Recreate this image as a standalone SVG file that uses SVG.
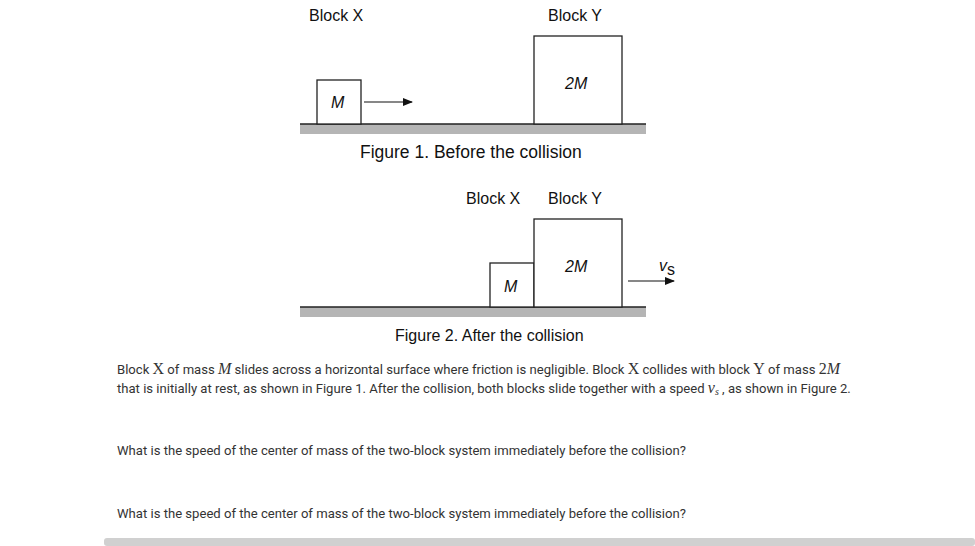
<svg xmlns="http://www.w3.org/2000/svg" width="975" height="546" viewBox="0 0 975 546">
<style>
.l{font-family:"Liberation Sans",Arial,sans-serif;font-size:16px;fill:#111}
.c{font-size:17.5px}
.i{font-style:italic}
.b{fill:#fff;stroke:#222;stroke-width:1.3}
.g{fill:#b5b5b5}
.t{font-family:Roboto,"Liberation Sans",sans-serif;font-size:13.1px;fill:#333}
.m{font-family:"Liberation Serif",serif;font-size:16px;fill:#333}
</style>
<defs><marker id="a" markerWidth="10" markerHeight="8" refX="9" refY="4" orient="auto" markerUnits="userSpaceOnUse"><path d="M0,0L10,4L0,8z" fill="#111"/></marker></defs>
<rect width="975" height="546" fill="#fff"/>
<g id="fig1">
<text class="l" x="309" y="21" font-size="16.5">Block X</text>
<text class="l" x="548" y="21" font-size="16.5">Block Y</text>
<rect class="g" x="300" y="124" width="346" height="10"/>
<line x1="300" y1="124" x2="646" y2="124" stroke="#222" stroke-width="1.3"/>
<g id="x1"><rect class="b" x="317" y="80" width="44" height="44"/><text class="l i" x="331" y="108">M</text></g>
<g id="y1"><rect class="b" x="534" y="36" width="88" height="88"/><text class="l i" x="565" y="89">2M</text></g>
<text class="l c" x="360" y="158">Figure 1. Before the collision</text>
</g>
<g id="fig2">
<text class="l" x="466" y="204" font-size="16.5">Block X</text>
<text class="l" x="548" y="204" font-size="16.5">Block Y</text>
<rect class="g" x="300" y="307" width="346" height="10"/>
<line x1="300" y1="307" x2="646" y2="307" stroke="#222" stroke-width="1.3"/>
<g id="x2"><rect class="b" x="490" y="263" width="44" height="44"/><text class="l i" x="504" y="292">M</text></g>
<g id="y2"><rect class="b" x="534" y="219" width="88" height="88"/><text class="l i" x="565" y="272">2M</text></g>
<text class="l i" x="659" y="271" font-size="14">v</text><text class="l" x="667" y="275" font-size="11">s</text>
<text class="l" x="395" y="341" font-size="15.5">Figure 2. After the collision</text>
</g>
<g id="connectors">
<line x1="364" y1="102" x2="412" y2="102" stroke="#111" stroke-width="1.2" marker-end="url(#a)"/>
<line x1="628" y1="281" x2="674" y2="281" stroke="#111" stroke-width="1.2" marker-end="url(#a)"/>
</g>
<g id="text">
<text class="t" x="117" y="374">Block <tspan class="m">X</tspan> of mass <tspan class="m" font-style="italic">M</tspan> slides across a horizontal surface where friction is negligible. Block <tspan class="m">X</tspan> collides with block <tspan class="m">Y</tspan> of mass <tspan class="m">2<tspan font-style="italic">M</tspan></tspan></text>
<text class="t" x="117" y="393">that is initially at rest, as shown in Figure 1. After the collision, both blocks slide together with a speed <tspan class="m" font-style="italic">v<tspan font-size="10" dy="2">s</tspan></tspan><tspan dy="-2"> , as shown in Figure 2.</tspan></text>
<text class="t" x="117" y="455">What is the speed of the center of mass of the two-block system immediately before the collision?</text>
<text class="t" x="117" y="518">What is the speed of the center of mass of the two-block system immediately before the collision?</text>
</g>
<rect x="104" y="538" width="871" height="8" rx="3" fill="#d0d0d0"/>
</svg>
